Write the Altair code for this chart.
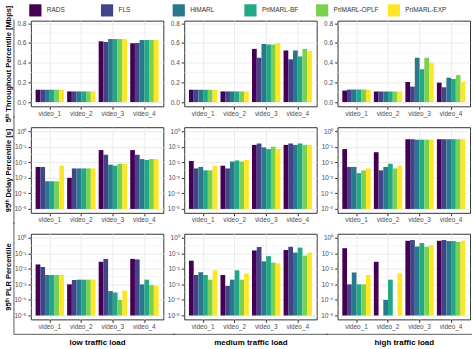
import altair as alt
import pandas as pd

methods = ["RADS", "FLS", "HiMARL", "PriMARL-BF", "PriMARL-OPLF", "PriMARL-EXP"]
colors = ["#440154", "#414487", "#2A788E", "#22A884", "#7AD151", "#FDE725"]
videos = ["video_1", "video_2", "video_3", "video_4"]
loads = ["low traffic load", "medium traffic load", "high traffic load"]
row_titles = ["5ᵗʰ Throughout Percentile [Mbps]", "95ᵗʰ Delay Percentile [s]", "95ᵗʰ PLR Percentile"]

# values: one list per video, in the order of `methods`
thr_low = [[0.125, 0.125, 0.125, 0.125, 0.125, 0.125],
           [0.108, 0.108, 0.108, 0.108, 0.108, 0.108],
           [0.617, 0.61, 0.64, 0.64, 0.64, 0.64],
           [0.597, 0.60, 0.63, 0.63, 0.63, 0.63]]
thr_med = [[0.125, 0.125, 0.125, 0.125, 0.125, 0.125],
           [0.108, 0.108, 0.108, 0.108, 0.108, 0.108],
           [0.54, 0.45, 0.59, 0.585, 0.585, 0.60],
           [0.524, 0.434, 0.524, 0.464, 0.54, 0.52]]
thr_high = [[0.117, 0.127, 0.127, 0.127, 0.127, 0.127],
            [0.107, 0.107, 0.107, 0.107, 0.107, 0.107],
            [0.204, 0.157, 0.45, 0.334, 0.45, 0.40],
            [0.197, 0.15, 0.247, 0.234, 0.274, 0.207]]

delay_low = [[5e-3, 5e-3, 6e-4, 6e-4, 6e-4, 6e-3],
             [1e-3, 4e-3, 4e-3, 4e-3, 4e-3, 4e-3],
             [6e-2, 3e-2, 7e-3, 6e-3, 8e-3, 8e-3],
             [6e-2, 3e-2, 1.6e-2, 1.4e-2, 1.6e-2, 1.6e-2]]
delay_med = [[1.2e-2, 4e-3, 5e-3, 3e-3, 3e-3, 6e-3],
             [6e-3, 4e-3, 1.1e-2, 1.3e-2, 1.1e-2, 1.4e-2],
             [1.3e-1, 1.6e-1, 9e-2, 7e-2, 1e-1, 7e-2],
             [1.3e-1, 1.6e-1, 1.3e-1, 1.6e-1, 1.3e-1, 1.3e-1]]
delay_high = [[7e-2, 5e-3, 5e-3, 2e-3, 3e-3, 4e-3],
              [4.4e-2, 3e-3, 5e-3, 8e-3, 4e-3, 6e-3],
              [0.3, 0.3, 0.28, 0.28, 0.28, 0.28],
              [0.3, 0.3, 0.3, 0.3, 0.3, 0.3]]

plr_low = [[1.9e-2, 1.3e-2, 4e-3, 4e-3, 4e-3, 4e-3],
           [1e-3, 1.9e-3, 2e-3, 2e-3, 2e-3, 2e-3],
           [2.8e-2, 4.3e-2, 3.7e-4, 3e-4, 1e-4, 4e-4],
           [4.3e-2, 4e-2, 1e-3, 2e-3, 9e-4, 8e-4]]
plr_med = [[3.3e-2, 4e-3, 6e-3, 4e-3, 2e-3, 8e-3],
           [4e-3, 8e-4, 2e-3, 8e-3, 2e-3, 5e-3],
           [1.5e-1, 2.5e-1, 3e-2, 6.5e-2, 2.5e-2, 2.3e-2],
           [1.6e-1, 2.6e-1, 1.1e-1, 2.3e-1, 7e-2, 1.1e-1]]
plr_high = [[2.1e-1, 1e-3, 5.8e-3, 1e-3, 1e-3, 4e-3],
            [2.8e-2, None, 1e-4, 2e-3, None, 5e-3],
            [0.63, 0.7, 0.27, 0.45, 0.26, 0.33],
            [0.63, 0.7, 0.6, 0.6, 0.53, 0.63]]

metrics = ["thr", "delay", "plr"]
tables = [[thr_low, thr_med, thr_high],
          [delay_low, delay_med, delay_high],
          [plr_low, plr_med, plr_high]]

rows = []
for mi, m in enumerate(metrics):
    for li, l in enumerate(loads):
        for vi, v in enumerate(videos):
            for k, meth in enumerate(methods):
                val = tables[mi][li][vi][k]
                if val is not None:
                    rows.append(dict(metric=m, load=l, video=v, method=meth, value=val))
df = pd.DataFrame(rows)

FONT = "Liberation Sans"
GRID = "#EBEBEB"
TXT = "#4D4D4D"
DARK = "#333333"
W = 133
H = 86
GAP = 21
FS = 6.5

legend = alt.Legend(orient="none", legendX=-2, legendY=-17,
                    direction="horizontal", columns=6, title=None,
                    symbolType="square", symbolSize=150, symbolStrokeWidth=0,
                    symbolOpacity=1, labelFontSize=FS, labelColor=DARK,
                    labelFont=FONT, gridAlign="all", columnPadding=8,
                    labelOffset=5, padding=0)


def panel(mi, li):
    d = df[(df.metric == metrics[mi]) & (df.load == loads[li])]
    if mi > 0:
        yscale = alt.Scale(type="log", domain=[10 ** -5.25, 10 ** 0.25], nice=False)
        ticks = [1e-5, 1e-4, 1e-3, 1e-2, 1e-1, 1]
        minor = [10 ** -4.5, 10 ** -3.5, 10 ** -2.5, 10 ** -1.5, 10 ** -0.5]
        lab = "'10' + ['⁰','⁻¹','⁻²','⁻³','⁻⁴','⁻⁵'][round(-log(datum.value)/LN10)]"
        base = 1e-5
    else:
        yscale = alt.Scale(domain=[-0.043, 0.827], nice=False, zero=False)
        ticks = [0, 0.2, 0.4, 0.6, 0.8]
        minor = [0.1, 0.3, 0.5, 0.7]
        lab = "format(datum.value, '.1f')"
        base = 0

    yaxis = alt.Axis(values=ticks, labelExpr=lab, grid=True, gridColor=GRID,
                     gridWidth=1, domain=False, tickColor=DARK, tickSize=3,
                     labelColor=TXT, labelFontSize=FS, labelPadding=2,
                     title=row_titles[mi] if li == 0 else None,
                     titleFontSize=7.5, titleFontWeight="bold", titleColor="black",
                     titleAngle=270, titleBaseline="bottom", titleX=-18,
                     titleY=H / 2)
    xaxis = alt.Axis(grid=True, gridColor=GRID, domain=False, tickColor=DARK,
                     tickSize=3, labelColor=TXT, labelFontSize=FS, labelPadding=1,
                     labelAngle=0,
                     title=loads[li] if mi == 2 else None,
                     titleFontSize=8, titleFontWeight="bold", titleColor="black",
                     titlePadding=9)

    xenc = alt.X("video:N", sort=videos,
                 scale=alt.Scale(domain=videos, paddingInner=0.1, paddingOuter=0.15),
                 axis=xaxis)

    minor_layer = alt.Chart(pd.DataFrame({"value": minor})).mark_rule(
        color=GRID, strokeWidth=0.5).encode(y=alt.Y("value:Q", scale=yscale, axis=yaxis))

    bars = alt.Chart(d).mark_bar().encode(
        x=xenc,
        xOffset=alt.XOffset("method:N", sort=methods,
                            scale=alt.Scale(domain=methods, paddingInner=0, paddingOuter=0)),
        y=alt.Y("value:Q", scale=yscale, axis=yaxis),
        y2=alt.datum(base),
        color=alt.Color("method:N", scale=alt.Scale(domain=methods, range=colors),
                        legend=legend),
    )
    layers = [minor_layer, bars]
    one = pd.DataFrame({"a": [0]})
    if li == 0:
        y0 = -1 if mi == 0 else -GAP / 2 - 1
        y1 = H + 15 if mi == 2 else H + GAP / 2 + 1
        layers.append(alt.Chart(one).mark_rule(color=DARK, strokeWidth=0.8).encode(
            x=alt.value(-17), y=alt.value(y0), y2=alt.value(y1)))
    if mi == 2:
        x0 = -17 if li == 0 else -GAP / 2 - 1
        x1 = W + 2 if li == 2 else W + GAP / 2 + 1
        layers.append(alt.Chart(one).mark_rule(color=DARK, strokeWidth=0.8).encode(
            x=alt.value(x0), x2=alt.value(x1), y=alt.value(H + 15)))
    return alt.layer(*layers).properties(width=W, height=H)


panels = [panel(mi, li) for mi in range(3) for li in range(3)]

chart = alt.concat(*panels, columns=3, spacing=GAP, bounds="flush").properties(
    padding={"left": 4, "top": 3, "right": 1, "bottom": 0},
    background="white",
).configure_view(stroke=DARK, strokeWidth=1).configure_axis(
    labelFont=FONT, titleFont=FONT).configure_legend(labelFont=FONT)

chart.save("out.html", embed_options={"renderer": "svg", "actions": False})
